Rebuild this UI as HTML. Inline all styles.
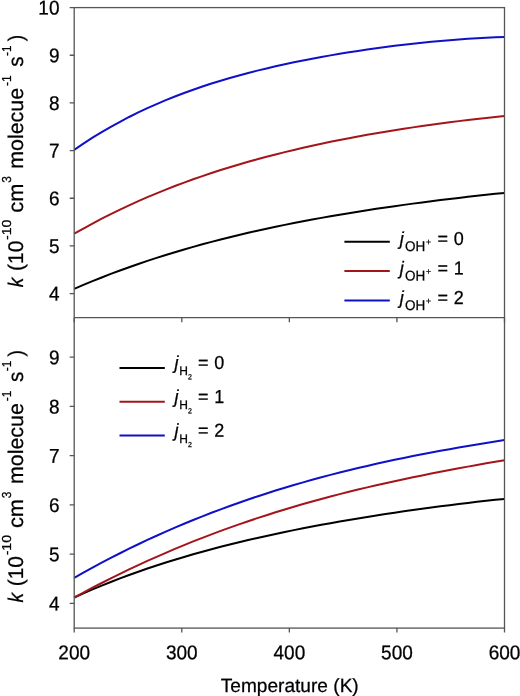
<!DOCTYPE html>
<html><head><meta charset="utf-8"><style>
html,body{margin:0;padding:0;background:#fff;width:520px;height:696px;overflow:hidden}
svg{display:block;text-rendering:geometricPrecision;font-family:"Liberation Sans",Arial,sans-serif;fill:#000}
text{stroke:#000;stroke-width:0.25px}
</style></head><body>
<svg width="520" height="696" viewBox="0 0 520 696">
<polyline points="74.2,288.84 83.4,284.92 92.5,281.13 101.7,277.47 110.8,273.93 120.0,270.50 129.1,267.19 138.3,263.98 147.4,260.88 156.6,257.89 165.8,254.99 174.9,252.19 184.1,249.48 193.2,246.85 202.4,244.32 211.5,241.87 220.7,239.49 229.8,237.19 239.0,234.97 248.2,232.82 257.3,230.74 266.5,228.72 275.6,226.77 284.8,224.87 293.9,223.04 303.1,221.26 312.2,219.54 321.4,217.87 330.5,216.25 339.7,214.67 348.9,213.15 358.0,211.67 367.2,210.23 376.3,208.83 385.5,207.47 394.6,206.15 403.8,204.87 412.9,203.63 422.1,202.42 431.3,201.24 440.4,200.09 449.6,198.98 458.7,197.90 467.9,196.84 477.0,195.82 486.2,194.82 495.3,193.85 504.5,192.91" fill="none" stroke="#000000" stroke-width="2.0" stroke-linejoin="round"/>
<polyline points="74.2,233.72 83.4,228.54 92.5,223.55 101.7,218.73 110.8,214.10 120.0,209.63 129.1,205.32 138.3,201.17 147.4,197.18 156.6,193.33 165.8,189.62 174.9,186.05 184.1,182.61 193.2,179.30 202.4,176.11 211.5,173.03 220.7,170.07 229.8,167.22 239.0,164.46 248.2,161.81 257.3,159.26 266.5,156.80 275.6,154.42 284.8,152.14 293.9,149.93 303.1,147.80 312.2,145.75 321.4,143.76 330.5,141.85 339.7,140.01 348.9,138.23 358.0,136.51 367.2,134.85 376.3,133.25 385.5,131.70 394.6,130.20 403.8,128.76 412.9,127.37 422.1,126.03 431.3,124.73 440.4,123.48 449.6,122.28 458.7,121.12 467.9,120.00 477.0,118.93 486.2,117.89 495.3,116.90 504.5,115.95" fill="none" stroke="#a3151b" stroke-width="2.0" stroke-linejoin="round"/>
<polyline points="74.2,149.83 83.4,143.61 92.5,137.71 101.7,132.11 110.8,126.80 120.0,121.76 129.1,116.98 138.3,112.44 147.4,108.14 156.6,104.05 165.8,100.18 174.9,96.50 184.1,93.01 193.2,89.70 202.4,86.55 211.5,83.55 220.7,80.71 229.8,78.00 239.0,75.43 248.2,72.97 257.3,70.64 266.5,68.41 275.6,66.28 284.8,64.25 293.9,62.31 303.1,60.46 312.2,58.69 321.4,56.99 330.5,55.37 339.7,53.82 348.9,52.33 358.0,50.91 367.2,49.56 376.3,48.27 385.5,47.03 394.6,45.86 403.8,44.75 412.9,43.70 422.1,42.71 431.3,41.79 440.4,40.92 449.6,40.13 458.7,39.41 467.9,38.76 477.0,38.18 486.2,37.69 495.3,37.28 504.5,36.96" fill="none" stroke="#1010c8" stroke-width="2.0" stroke-linejoin="round"/>
<polyline points="74.2,597.49 83.4,593.39 92.5,589.43 101.7,585.62 110.8,581.95 120.0,578.41 129.1,575.00 138.3,571.71 147.4,568.54 156.6,565.48 165.8,562.53 174.9,559.68 184.1,556.93 193.2,554.27 202.4,551.70 211.5,549.21 220.7,546.81 229.8,544.49 239.0,542.24 248.2,540.06 257.3,537.95 266.5,535.90 275.6,533.92 284.8,531.99 293.9,530.12 303.1,528.31 312.2,526.54 321.4,524.83 330.5,523.16 339.7,521.54 348.9,519.96 358.0,518.42 367.2,516.93 376.3,515.47 385.5,514.05 394.6,512.67 403.8,511.33 412.9,510.02 422.1,508.75 431.3,507.51 440.4,506.31 449.6,505.15 458.7,504.02 467.9,502.92 477.0,501.86 486.2,500.84 495.3,499.85 504.5,498.91" fill="none" stroke="#000000" stroke-width="2.0" stroke-linejoin="round"/>
<polyline points="74.2,597.57 83.4,592.60 92.5,587.74 101.7,582.99 110.8,578.36 120.0,573.84 129.1,569.42 138.3,565.11 147.4,560.91 156.6,556.81 165.8,552.82 174.9,548.92 184.1,545.13 193.2,541.43 202.4,537.83 211.5,534.32 220.7,530.91 229.8,527.59 239.0,524.36 248.2,521.21 257.3,518.15 266.5,515.18 275.6,512.29 284.8,509.47 293.9,506.74 303.1,504.08 312.2,501.49 321.4,498.98 330.5,496.53 339.7,494.15 348.9,491.84 358.0,489.59 367.2,487.40 376.3,485.27 385.5,483.20 394.6,481.17 403.8,479.20 412.9,477.28 422.1,475.40 431.3,473.57 440.4,471.77 449.6,470.02 458.7,468.30 467.9,466.61 477.0,464.96 486.2,463.33 495.3,461.72 504.5,460.14" fill="none" stroke="#a3151b" stroke-width="2.0" stroke-linejoin="round"/>
<polyline points="74.2,577.89 83.4,572.71 92.5,567.65 101.7,562.73 110.8,557.93 120.0,553.25 129.1,548.69 138.3,544.25 147.4,539.93 156.6,535.72 165.8,531.63 174.9,527.65 184.1,523.77 193.2,520.00 202.4,516.34 211.5,512.78 220.7,509.32 229.8,505.96 239.0,502.70 248.2,499.53 257.3,496.45 266.5,493.46 275.6,490.56 284.8,487.75 293.9,485.02 303.1,482.37 312.2,479.80 321.4,477.30 330.5,474.89 339.7,472.54 348.9,470.26 358.0,468.05 367.2,465.91 376.3,463.83 385.5,461.81 394.6,459.85 403.8,457.94 412.9,456.09 422.1,454.29 431.3,452.54 440.4,450.84 449.6,449.18 458.7,447.56 467.9,445.98 477.0,444.43 486.2,442.92 495.3,441.44 504.5,439.99" fill="none" stroke="#1010c8" stroke-width="2.0" stroke-linejoin="round"/>
<rect x="74.2" y="7.6" width="430.30" height="620.50" fill="none" stroke="#555555" stroke-width="1.3"/>
<line x1="74.2" y1="317.7" x2="504.5" y2="317.7" stroke="#555555" stroke-width="1.3"/>
<path d="M74.20 317.7v4.5 M74.20 628.1v4.5 M181.78 317.7v4.5 M181.78 628.1v4.5 M289.35 317.7v4.5 M289.35 628.1v4.5 M396.93 317.7v4.5 M396.93 628.1v4.5 M504.50 317.7v4.5 M504.50 628.1v4.5 M74.2 293.60h-4.5 M74.2 245.93h-4.5 M74.2 198.27h-4.5 M74.2 150.60h-4.5 M74.2 102.93h-4.5 M74.2 55.27h-4.5 M74.2 7.60h-4.5 M74.2 603.40h-4.5 M74.2 554.16h-4.5 M74.2 504.92h-4.5 M74.2 455.68h-4.5 M74.2 406.44h-4.5 M74.2 357.20h-4.5" stroke="#555555" stroke-width="1.3" fill="none"/>
<text transform="translate(59.50 300.60) scale(1 1.045) rotate(0.05)" font-size="19" text-anchor="end">4</text><text transform="translate(59.50 252.93) scale(1 1.045) rotate(0.05)" font-size="19" text-anchor="end">5</text><text transform="translate(59.50 205.27) scale(1 1.045) rotate(0.05)" font-size="19" text-anchor="end">6</text><text transform="translate(59.50 157.60) scale(1 1.045) rotate(0.05)" font-size="19" text-anchor="end">7</text><text transform="translate(59.50 109.93) scale(1 1.045) rotate(0.05)" font-size="19" text-anchor="end">8</text><text transform="translate(59.50 62.27) scale(1 1.045) rotate(0.05)" font-size="19" text-anchor="end">9</text><text transform="translate(59.50 14.60) scale(1 1.045) rotate(0.05)" font-size="19" text-anchor="end">10</text><text transform="translate(59.50 610.40) scale(1 1.045) rotate(0.05)" font-size="19" text-anchor="end">4</text><text transform="translate(59.50 561.16) scale(1 1.045) rotate(0.05)" font-size="19" text-anchor="end">5</text><text transform="translate(59.50 511.92) scale(1 1.045) rotate(0.05)" font-size="19" text-anchor="end">6</text><text transform="translate(59.50 462.68) scale(1 1.045) rotate(0.05)" font-size="19" text-anchor="end">7</text><text transform="translate(59.50 413.44) scale(1 1.045) rotate(0.05)" font-size="19" text-anchor="end">8</text><text transform="translate(59.50 364.20) scale(1 1.045) rotate(0.05)" font-size="19" text-anchor="end">9</text><text transform="translate(74.20 659.20) scale(1 1.045) rotate(0.05)" font-size="19" text-anchor="middle">200</text><text transform="translate(181.78 659.20) scale(1 1.045) rotate(0.05)" font-size="19" text-anchor="middle">300</text><text transform="translate(289.35 659.20) scale(1 1.045) rotate(0.05)" font-size="19" text-anchor="middle">400</text><text transform="translate(396.93 659.20) scale(1 1.045) rotate(0.05)" font-size="19" text-anchor="middle">500</text><text transform="translate(504.50 659.20) scale(1 1.045) rotate(0.05)" font-size="19" text-anchor="middle">600</text>
<text transform="translate(289.75 692.00) scale(1 1.0) rotate(0.05)" font-size="19.1" text-anchor="middle">Temperature (K)</text>
<text transform="translate(22.50 287.32) rotate(-90) scale(0.900 1)" font-size="21.2" font-style="italic">k</text><text transform="translate(22.50 270.89) rotate(-90) scale(0.983 1)" font-size="21.2">(10</text><text transform="translate(10.60 240.03) rotate(-90) scale(1.085 1)" font-size="13.0">-10</text><text transform="translate(22.50 212.73) rotate(-90) scale(1.028 1)" font-size="21.2">cm</text><text transform="translate(10.60 182.85) rotate(-90) scale(0.909 1)" font-size="13.0">3</text><text transform="translate(22.50 168.82) rotate(-90) scale(1.011 1)" font-size="21.2">molecue</text><text transform="translate(10.60 86.04) rotate(-90) scale(0.928 1)" font-size="13.0">-1</text><text transform="translate(22.50 66.67) rotate(-90) scale(0.974 1)" font-size="21.2">s</text><text transform="translate(10.60 55.92) rotate(-90) scale(0.900 1)" font-size="13.0">-1</text><text transform="translate(22.50 41.31) rotate(-90) scale(0.900 1)" font-size="21.2">)</text>
<text transform="translate(22.50 602.62) rotate(-90) scale(0.900 1)" font-size="21.2" font-style="italic">k</text><text transform="translate(22.50 586.19) rotate(-90) scale(0.983 1)" font-size="21.2">(10</text><text transform="translate(10.60 555.33) rotate(-90) scale(1.085 1)" font-size="13.0">-10</text><text transform="translate(22.50 528.03) rotate(-90) scale(1.028 1)" font-size="21.2">cm</text><text transform="translate(10.60 498.15) rotate(-90) scale(0.909 1)" font-size="13.0">3</text><text transform="translate(22.50 484.12) rotate(-90) scale(1.011 1)" font-size="21.2">molecue</text><text transform="translate(10.60 401.34) rotate(-90) scale(0.928 1)" font-size="13.0">-1</text><text transform="translate(22.50 381.97) rotate(-90) scale(0.974 1)" font-size="21.2">s</text><text transform="translate(10.60 371.22) rotate(-90) scale(0.900 1)" font-size="13.0">-1</text><text transform="translate(22.50 356.61) rotate(-90) scale(0.900 1)" font-size="21.2">)</text>
<line x1="344.4" y1="241.8" x2="389.8" y2="241.8" stroke="#000000" stroke-width="2.0"/><text transform="translate(399.70 244.90) scale(1 1.045) rotate(0.05)" font-size="18" font-style="italic">j</text><text transform="translate(404.96 250.90) scale(1 1.045) rotate(0.05)" font-size="13.5">OH</text><text transform="translate(426.10 245.10) scale(1 1.045) rotate(0.05)" font-size="8.6">+</text><text transform="translate(437.60 244.90) scale(1 1.045) rotate(0.05)" font-size="18">=</text><text transform="translate(453.70 244.90) scale(1 1.045) rotate(0.05)" font-size="18">0</text>
<line x1="344.4" y1="271.1" x2="389.8" y2="271.1" stroke="#a3151b" stroke-width="2.0"/><text transform="translate(399.70 274.40) scale(1 1.045) rotate(0.05)" font-size="18" font-style="italic">j</text><text transform="translate(404.96 280.40) scale(1 1.045) rotate(0.05)" font-size="13.5">OH</text><text transform="translate(426.10 274.60) scale(1 1.045) rotate(0.05)" font-size="8.6">+</text><text transform="translate(437.60 274.40) scale(1 1.045) rotate(0.05)" font-size="18">=</text><text transform="translate(453.70 274.40) scale(1 1.045) rotate(0.05)" font-size="18">1</text>
<line x1="344.4" y1="300.4" x2="389.8" y2="300.4" stroke="#1010c8" stroke-width="2.0"/><text transform="translate(399.70 303.90) scale(1 1.045) rotate(0.05)" font-size="18" font-style="italic">j</text><text transform="translate(404.96 309.90) scale(1 1.045) rotate(0.05)" font-size="13.5">OH</text><text transform="translate(426.10 304.10) scale(1 1.045) rotate(0.05)" font-size="8.6">+</text><text transform="translate(437.60 303.90) scale(1 1.045) rotate(0.05)" font-size="18">=</text><text transform="translate(453.70 303.90) scale(1 1.045) rotate(0.05)" font-size="18">2</text>
<line x1="119.5" y1="368.1" x2="164.8" y2="368.1" stroke="#000000" stroke-width="2.0"/><text transform="translate(174.50 369.00) scale(1 1.045) rotate(0.05)" font-size="18" font-style="italic">j</text><text transform="translate(179.20 375.10) scale(1 1.045) rotate(0.05)" font-size="12">H</text><text transform="translate(187.95 379.30) scale(1 1.045) rotate(0.05)" font-size="7">2</text><text transform="translate(197.90 369.00) scale(1 1.045) rotate(0.05)" font-size="18">=</text><text transform="translate(214.20 369.00) scale(1 1.045) rotate(0.05)" font-size="18">0</text>
<line x1="119.5" y1="401.8" x2="164.8" y2="401.8" stroke="#a3151b" stroke-width="2.0"/><text transform="translate(174.50 402.90) scale(1 1.045) rotate(0.05)" font-size="18" font-style="italic">j</text><text transform="translate(179.20 409.00) scale(1 1.045) rotate(0.05)" font-size="12">H</text><text transform="translate(187.95 413.20) scale(1 1.045) rotate(0.05)" font-size="7">2</text><text transform="translate(197.90 402.90) scale(1 1.045) rotate(0.05)" font-size="18">=</text><text transform="translate(214.20 402.90) scale(1 1.045) rotate(0.05)" font-size="18">1</text>
<line x1="119.5" y1="435.5" x2="164.8" y2="435.5" stroke="#1010c8" stroke-width="2.0"/><text transform="translate(174.50 436.80) scale(1 1.045) rotate(0.05)" font-size="18" font-style="italic">j</text><text transform="translate(179.20 442.90) scale(1 1.045) rotate(0.05)" font-size="12">H</text><text transform="translate(187.95 447.10) scale(1 1.045) rotate(0.05)" font-size="7">2</text><text transform="translate(197.90 436.80) scale(1 1.045) rotate(0.05)" font-size="18">=</text><text transform="translate(214.20 436.80) scale(1 1.045) rotate(0.05)" font-size="18">2</text>
</svg></body></html>
